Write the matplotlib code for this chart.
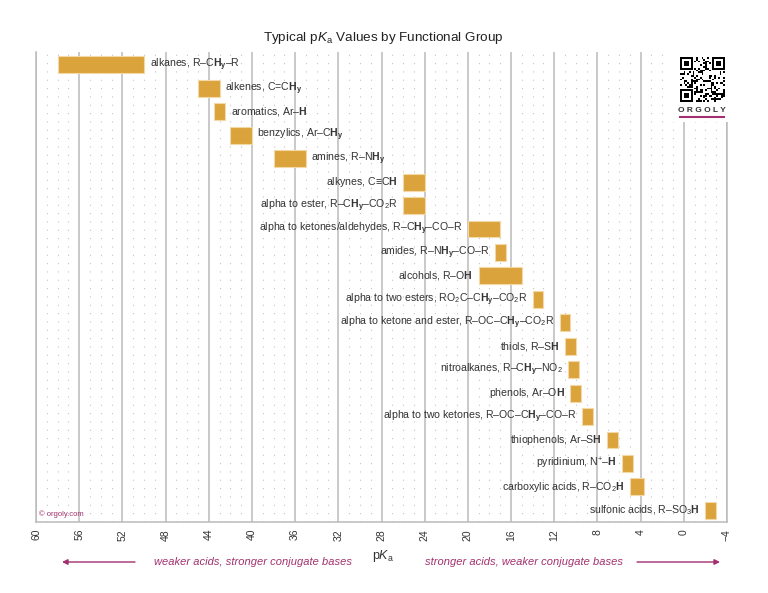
import numpy as np
import matplotlib
matplotlib.use('Agg')
import matplotlib.pyplot as plt
from matplotlib.ticker import MultipleLocator
from matplotlib.patches import Rectangle

plt.rcParams['font.family'] = ['Liberation Sans', 'DejaVu Sans']
plt.rcParams['mathtext.fontset'] = 'custom'
plt.rcParams['mathtext.rm'] = 'Liberation Sans'
plt.rcParams['mathtext.it'] = 'Liberation Sans:italic'
plt.rcParams['mathtext.bf'] = 'Liberation Sans:bold'

H = r'$\mathbf{H}$'
HY = r'$\mathbf{H}_\mathbf{y}$'

labels = [
    'alkanes, R–C' + HY + '–R',
    'alkenes, C=C' + HY,
    'aromatics, Ar–' + H,
    'benzylics, Ar–C' + HY,
    'amines, R–N' + HY,
    'alkynes, C≡C' + H,
    'alpha to ester, R–C' + HY + '–CO$_2$R',
    'alpha to ketones/aldehydes, R–C' + HY + '–CO–R',
    'amides, R–N' + HY + '–CO–R',
    'alcohols, R–O' + H,
    'alpha to two esters, RO$_2$C–C' + HY + '–CO$_2$R',
    'alpha to ketone and ester, R–OC–C' + HY + '–CO$_2$R',
    'thiols, R–S' + H,
    'nitroalkanes, R–C' + HY + '–NO$_2$',
    'phenols, Ar–O' + H,
    'alpha to two ketones, R–OC–C' + HY + '–CO–R',
    'thiophenols, Ar–S' + H,
    'pyridinium, N$^{+}$–' + H,
    'carboxylic acids, R–CO$_2$' + H,
    'sulfonic acids, R–SO$_3$' + H,
]
pka_low = [50, 43, 42.5, 40, 35, 24, 24, 17, 16.5, 15, 13, 10.5, 10, 9.7, 9.5,
           8.4, 6.1, 4.7, 3.7, -3]
pka_high = [58, 45, 43.5, 42, 38, 26, 26, 20, 17.5, 19, 14, 11.5, 11, 10.7, 10.5,
            9.4, 7.1, 5.7, 5.0, -2]
label_right = [True] * 5 + [False] * 15

bar_color = '#dba33c'
magenta = '#a3306e'
grid_major = '#bababa'

fig = plt.figure(figsize=(7.68, 5.93), dpi=100)
ax = fig.add_axes([36 / 768, 1 - 522 / 593, 691 / 768, 470 / 593])

y = np.arange(len(labels))
ax.barh(y, np.array(pka_high) - np.array(pka_low), left=pka_low, height=0.72,
        color=bar_color, edgecolor='#f2d9a6', linewidth=0.8, zorder=3)

for i, lab in enumerate(labels):
    if label_right[i]:
        ax.annotate(lab, (pka_low[i], y[i]), xytext=(4, 0), textcoords='offset points',
                    ha='left', va='center', fontsize=7.6, color='#333333')
    else:
        ax.annotate(lab, (pka_high[i], y[i]), xytext=(-4, 0), textcoords='offset points',
                    ha='right', va='center', fontsize=7.6, color='#333333')

ax.set_xlim(60, -4)
ax.set_ylim(19.5, -0.55)
ax.xaxis.set_major_locator(MultipleLocator(4))
ax.xaxis.set_minor_locator(MultipleLocator(1))
ax.set_yticks([])
ax.grid(axis='x', which='major', color=grid_major, linewidth=1.1, zorder=0)
ax.grid(axis='x', which='minor', color='#c4c4c4', linewidth=0.8,
        linestyle=(0, (1, 6.5)), zorder=0)
ax.set_axisbelow(True)
ax.tick_params(axis='x', which='both', length=0, pad=5, labelsize=7.5,
               labelcolor='#333333', labelrotation=90)
for side in ['left', 'right', 'bottom']:
    ax.spines[side].set_color(grid_major)
    ax.spines[side].set_linewidth(1.1)
ax.spines['top'].set_visible(False)

fig.text(383 / 768, 1 - 38 / 593, 'Typical p$K$$_\\mathrm{a}$ Values by Functional Group',
         ha='center', va='center', fontsize=9.7, color='#222222')
fig.text(383 / 768, 1 - 556 / 593, 'p$K$$_\\mathrm{a}$', ha='center', va='center',
         fontsize=9, color='#333333')

ax.text(0.004, 0.008, '© orgoly.com', transform=ax.transAxes, fontsize=5.5,
        color=magenta, ha='left', va='bottom')

# direction hints under the axis
fig.text(352 / 768, 1 - 562 / 593, 'weaker acids, stronger conjugate bases',
         ha='right', va='center', fontsize=8, style='italic', color=magenta)
fig.text(425 / 768, 1 - 562 / 593, 'stronger acids, weaker conjugate bases',
         ha='left', va='center', fontsize=8, style='italic', color=magenta)
ax.annotate('', xy=(62 / 768, 1 - 562 / 593), xytext=(135 / 768, 1 - 562 / 593),
            xycoords='figure fraction', textcoords='figure fraction',
            arrowprops=dict(arrowstyle='-|>', color=magenta, lw=1.0,
                            mutation_scale=8, shrinkA=0, shrinkB=0))
ax.annotate('', xy=(720 / 768, 1 - 562 / 593), xytext=(637 / 768, 1 - 562 / 593),
            xycoords='figure fraction', textcoords='figure fraction',
            arrowprops=dict(arrowstyle='-|>', color=magenta, lw=1.0,
                            mutation_scale=8, shrinkA=0, shrinkB=0))

# logo block (white patch over the grid, QR-like mark, brand name)
fig.patches.append(Rectangle((668 / 768, 1 - 122 / 593), 70 / 768, 78 / 593,
                             transform=fig.transFigure, facecolor='white',
                             edgecolor='none', zorder=5))
n = 25
ii, jj = np.meshgrid(np.arange(n), np.arange(n), indexing='ij')
qr = (((ii * 7 + jj * 13) ^ (ii * jj)) % 3 == 0).astype(float)
for (r0, c0) in [(0, 0), (0, n - 7), (n - 7, 0)]:
    qr[max(r0 - 1, 0):r0 + 8, max(c0 - 1, 0):c0 + 8] = 0
    qr[r0:r0 + 7, c0:c0 + 7] = 1
    qr[r0 + 1:r0 + 6, c0 + 1:c0 + 6] = 0
    qr[r0 + 2:r0 + 5, c0 + 2:c0 + 5] = 1
qax = fig.add_axes([680 / 768, 1 - 102 / 593, 45 / 768, 45 / 593], zorder=6)
qax.imshow(qr, cmap='Greys', vmin=0, vmax=1, interpolation='nearest')
qax.axis('off')
fig.text(702 / 768, 1 - 110 / 593, 'O R G O L Y', ha='center', va='center',
         fontsize=6, weight='bold', color='#333333', zorder=6)
fig.add_artist(plt.Line2D([680 / 768, 724 / 768], [1 - 117 / 593, 1 - 117 / 593],
                          transform=fig.transFigure, color=magenta, lw=1.5, zorder=6))

fig.savefig('out.png', dpi=100)
